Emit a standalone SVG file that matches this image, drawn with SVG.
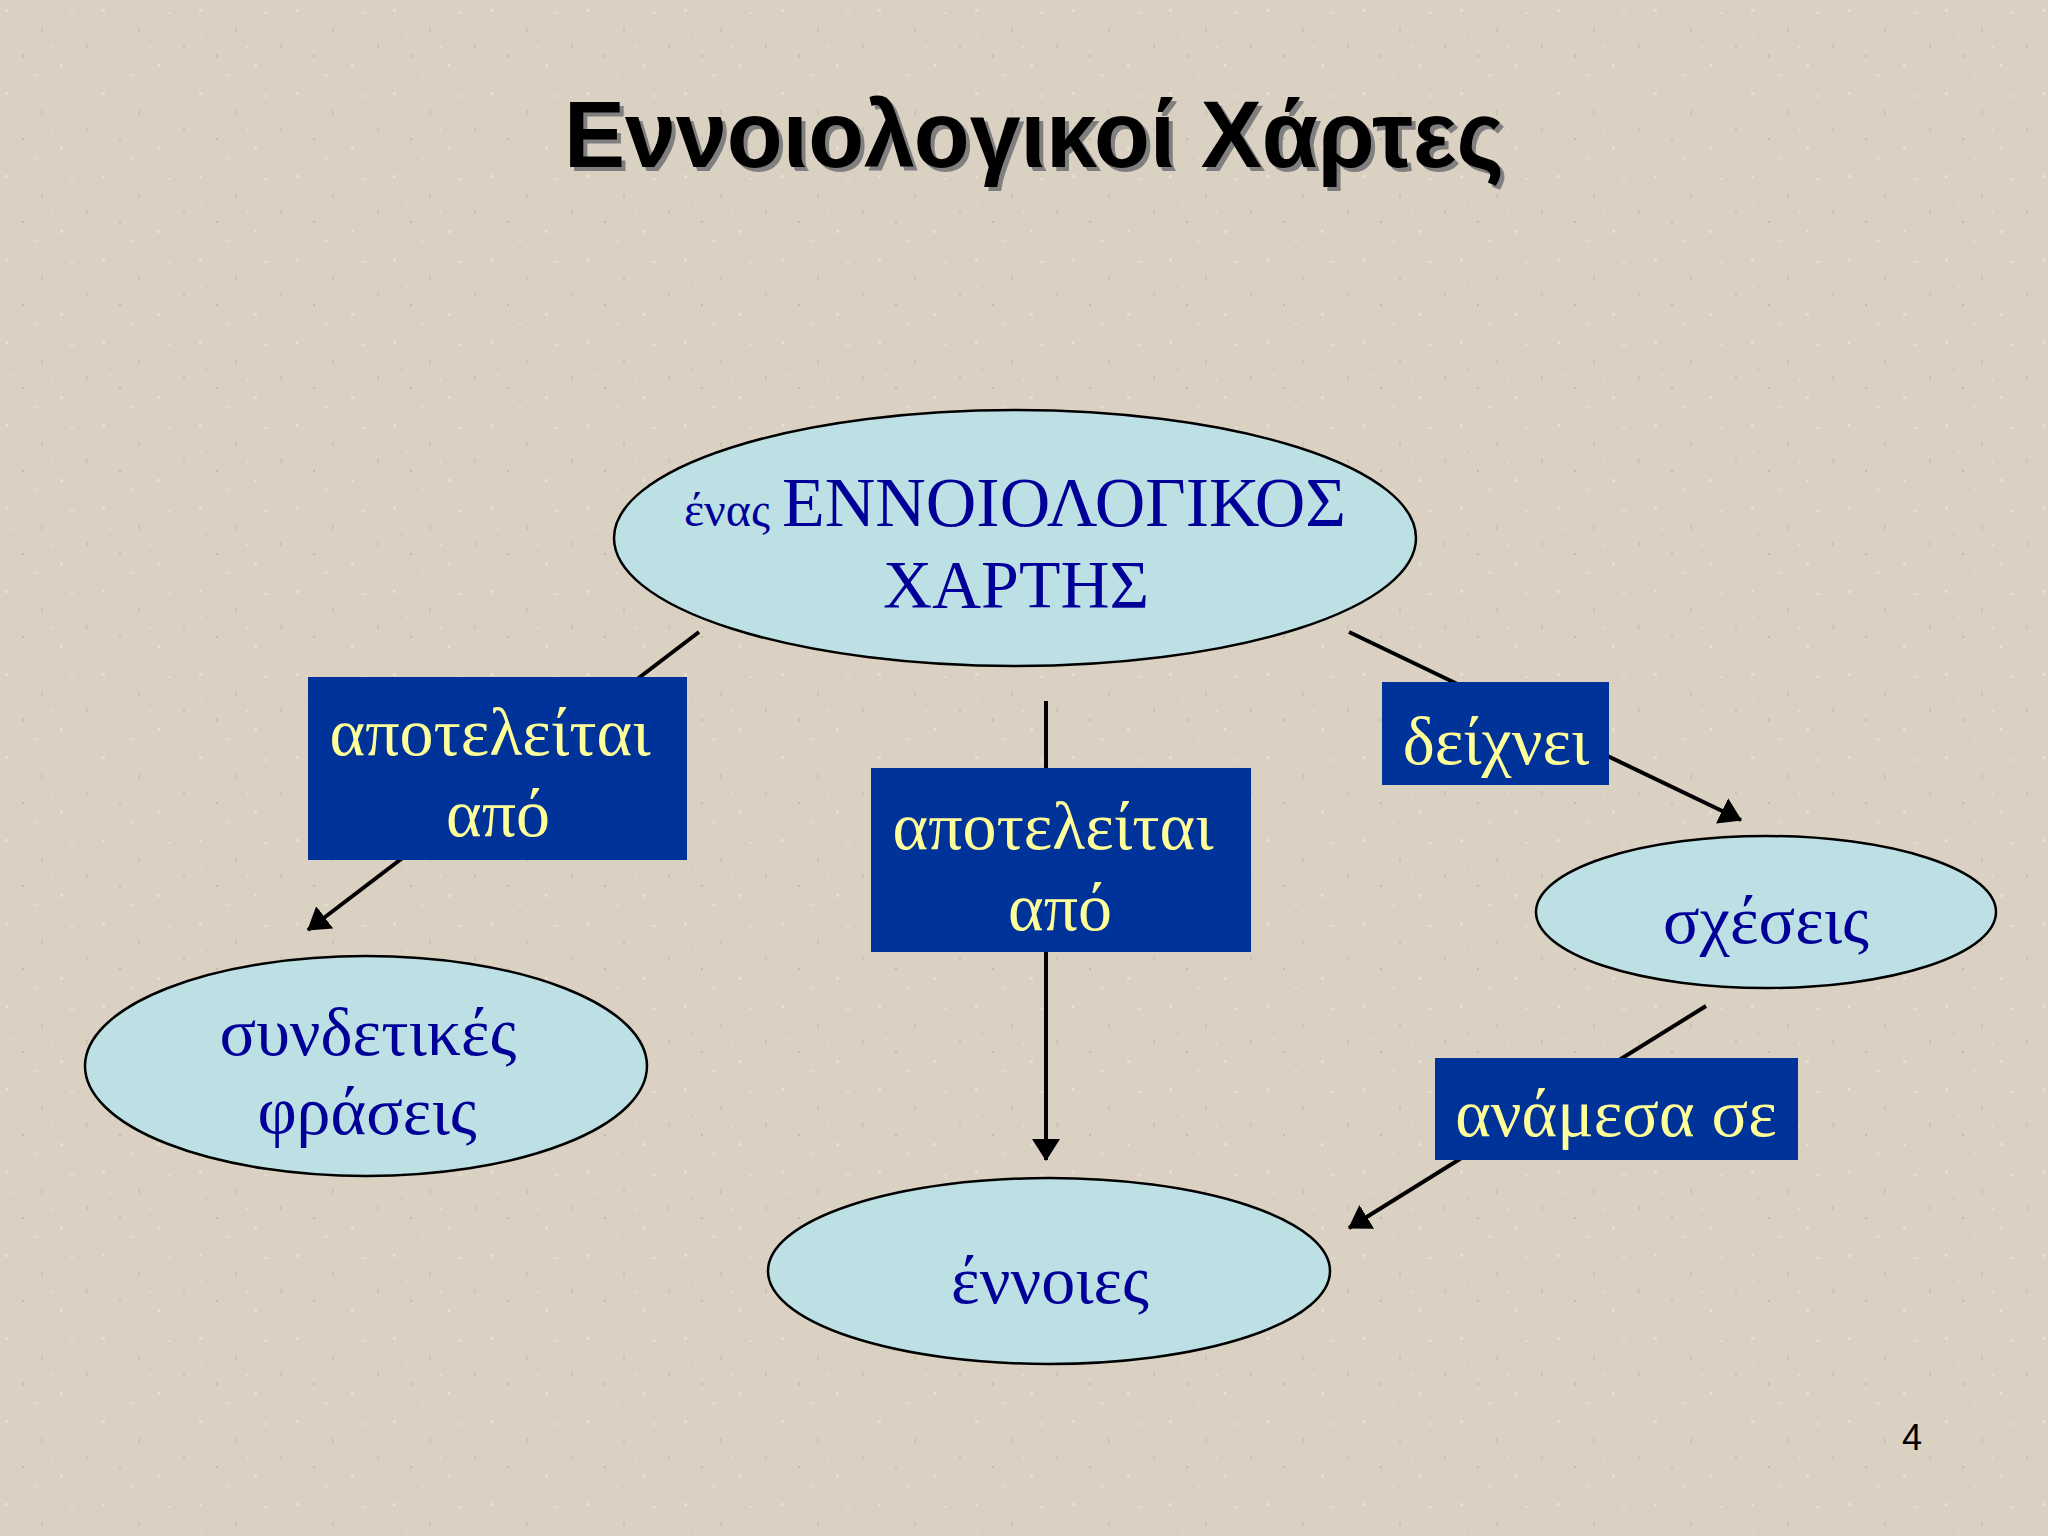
<svg xmlns="http://www.w3.org/2000/svg" width="2048" height="1536" viewBox="0 0 2048 1536">
<defs>
<pattern id="tex" x="0" y="0" width="97" height="83" patternUnits="userSpaceOnUse">
<rect width="97" height="83" fill="#DAD1C2"/>
<rect x="5" y="9" width="3" height="3" fill="#F0EBE0" opacity="0.5"/>
<rect x="41" y="27" width="2" height="5" fill="#B8AD9B" opacity="0.35"/>
<rect x="70" y="12" width="4" height="2" fill="#EEE8DC" opacity="0.45"/>
<rect x="22" y="55" width="2" height="2" fill="#A89C88" opacity="0.4"/>
<rect x="60" y="64" width="3" height="3" fill="#F2EEE4" opacity="0.45"/>
<rect x="86" y="44" width="2" height="4" fill="#B5AA97" opacity="0.35"/>
<rect x="33" y="74" width="4" height="2" fill="#E8E1D4" opacity="0.5"/>
<rect x="12" y="36" width="2" height="2" fill="#C4B9A7" opacity="0.4"/>
<rect x="52" y="46" width="2" height="2" fill="#EDE7DB" opacity="0.5"/>
</pattern>
<marker id="arr" markerUnits="userSpaceOnUse" markerWidth="22" markerHeight="28" refX="21" refY="14" orient="auto">
<path d="M0,0 L22,14 L0,28 z" fill="#000"/>
</marker>
<style>
.ell{fill:#BCE0E4;stroke:#000;stroke-width:2.5}
.box{fill:#003399}
.nt{font-family:"Liberation Serif","Times New Roman",serif;font-size:68px;fill:#000099;text-anchor:middle}
.bt{font-family:"Liberation Serif","Times New Roman",serif;font-size:68px;fill:#FFFF99;text-anchor:middle}
.con{stroke:#000;stroke-width:4;fill:none;marker-end:url(#arr)}
</style>
</defs>
<rect width="2048" height="1536" fill="url(#tex)"/>

<g id="title">
<text x="1038" y="171" font-family="Liberation Sans, Arial, sans-serif" font-weight="bold" font-size="94" fill="#7F7F7F" text-anchor="middle" textLength="940" lengthAdjust="spacingAndGlyphs">Εννοιολογικοί Χάρτες</text>
<text x="1034" y="167" font-family="Liberation Sans, Arial, sans-serif" font-weight="bold" font-size="94" fill="#000" text-anchor="middle" textLength="940" lengthAdjust="spacingAndGlyphs">Εννοιολογικοί Χάρτες</text>
</g>

<g id="connectors">
<line class="con" x1="699" y1="632" x2="308" y2="930"/>
<line class="con" x1="1046" y1="701" x2="1046" y2="1160"/>
<line class="con" x1="1349" y1="632" x2="1741" y2="820"/>
<line class="con" x1="1706" y1="1006" x2="1349" y2="1228"/>
</g>

<g id="node-map">
<ellipse class="ell" cx="1015" cy="538" rx="401" ry="128"/>
<text class="nt" x="1015" y="526"><tspan font-size="48">ένας </tspan><tspan font-size="70">ΕΝΝΟΙΟΛΟΓΙΚΟΣ</tspan></text>
<text class="nt" x="1016" y="607" font-size="74" textLength="266" lengthAdjust="spacingAndGlyphs">ΧΑΡΤΗΣ</text>
</g>

<g id="label-left">
<rect class="box" x="308" y="677" width="379" height="183"/>
<text class="bt" x="490" y="755">αποτελείται</text>
<text class="bt" x="498" y="836">από</text>
</g>

<g id="label-middle">
<rect class="box" x="871" y="768" width="380" height="184"/>
<text class="bt" x="1053" y="849">αποτελείται</text>
<text class="bt" x="1060" y="930">από</text>
</g>

<g id="label-right">
<rect class="box" x="1382" y="682" width="227" height="103"/>
<text class="bt" x="1496" y="764">δείχνει</text>
</g>

<g id="label-between">
<rect class="box" x="1435" y="1058" width="363" height="102"/>
<text class="bt" x="1616" y="1136">ανάμεσα σε</text>
</g>

<g id="node-phrases">
<ellipse class="ell" cx="366" cy="1066" rx="281" ry="110"/>
<text class="nt" x="368" y="1055">συνδετικές</text>
<text class="nt" x="367" y="1134">φράσεις</text>
</g>

<g id="node-concepts">
<ellipse class="ell" cx="1049" cy="1271" rx="281" ry="93"/>
<text class="nt" x="1050" y="1303">έννοιες</text>
</g>

<g id="node-relations">
<ellipse class="ell" cx="1766" cy="912" rx="230" ry="76"/>
<text class="nt" x="1766" y="943">σχέσεις</text>
</g>

<text x="1912" y="1450" font-family="Liberation Sans, Arial, sans-serif" font-size="36" fill="#000" text-anchor="middle">4</text>
</svg>
